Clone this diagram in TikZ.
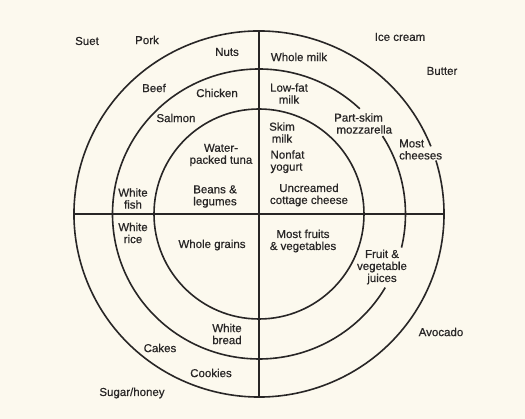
\documentclass[tikz,border=0pt]{standalone}
\usepackage{fontspec}
\setmainfont{Liberation Sans}[BoldFont={Liberation Sans}, BoldFeatures={FakeBold=0.6}]
\usepackage{tikz}
\usetikzlibrary{positioning}
\definecolor{paper}{RGB}{252,249,238}
\definecolor{ink}{RGB}{40,38,38}

\begin{document}
\begin{tikzpicture}[x=1pt, y=1pt,
    ring/.style={draw=ink, line width=1.6pt},
    lbl/.style={text=ink, align=center, inner sep=0pt,
        font=\fontsize{11.5}{12}\selectfont\bfseries}]
    \fill[paper] (-259,-205) rectangle (266,214);
    \useasboundingbox (-259,-205) rectangle (266,214);
    \coordinate (C) at (0,0);
    \coordinate (T) at (0,183);
    \coordinate (B) at (0,-183);
    \coordinate (L) at (-185,0);
    \coordinate (R) at (185,0);
    % rings (with gaps for the labels on the right)
    \draw[ring] (C) ellipse [x radius=105pt, y radius=105pt];
    \draw[ring] ([shift={(46.5:146.5pt and 145pt)}]C) arc [start angle=46.5, end angle=329.5, x radius=146.5pt, y radius=145pt];
    \draw[ring] ([shift={(-13.4:146.5pt and 145pt)}]C) arc [start angle=-13.4, end angle=32.5, x radius=146.5pt, y radius=145pt];
    \draw[ring] ([shift={(21.7:185pt and 183pt)}]C) arc [start angle=21.7, end angle=377, x radius=185pt, y radius=183pt];
    \draw[ring] (T) -- (B);
    \draw[ring] (L) -- (R);
    % upper left
    \node[lbl] (Suet) at (-172,173) {Suet};
    \node[lbl] (Pork) at (-112,174) {Pork};
    \node[lbl] (Nuts) at (-32,162) {Nuts};
    \node[lbl] (Beef) at (-105,126) {Beef};
    \node[lbl] (Chicken) at (-42,121) {Chicken};
    \node[lbl] (Salmon) at (-83,96) {Salmon};
    \node[lbl] (Tuna) at (-38,59) {Water-\\packed tuna};
    \node[lbl] (Beans) at (-44,17.5) {Beans \&\\legumes};
    \node[lbl] (Fish) at (-126,15.5) {White\\fish};
    % upper right
    \node[lbl] (IceCream) at (141,177) {Ice cream};
    \node[lbl] (Butter) at (183,143) {Butter};
    \node[lbl] (WholeMilk) at (40,157) {Whole milk};
    \node[lbl] (LowFat) at (30,120.5) {Low-fat\\milk};
    \node[lbl] (Skim) at (23,81.5) {Skim\\milk};
    \node[lbl] (Mozz) at (99.5,90.5) {Part-skim\\\hspace{1em}mozzarella};
    \node[lbl, align=left, anchor=west] (Cheeses) at (140,64.5) {Most\\cheeses};
    \node[lbl, align=left] (Yogurt) at (28.5,52.3) {Nonfat\\yogurt};
    \node[lbl] (Cottage) at (50,19) {Uncreamed\\cottage cheese};
    % lower left
    \node[lbl] (Rice) at (-126,-19) {White\\rice};
    \node[lbl] (Grains) at (-47,-31) {Whole grains};
    \node[lbl] (Bread) at (-32,-120) {White\\bread};
    \node[lbl] (Cakes) at (-99,-134) {Cakes};
    \node[lbl] (Cookies) at (-48,-159) {Cookies};
    \node[lbl] (Sugar) at (-127,-179) {Sugar/honey};
    % lower right
    \node[lbl] (Fruits) at (44,-27) {Most fruits\\\& vegetables};
    \node[lbl] (Juices) at (123,-53) {Fruit \&\\vegetable\\juices};
    \node[lbl] (Avocado) at (182,-118) {Avocado};
\end{tikzpicture}
\end{document}
